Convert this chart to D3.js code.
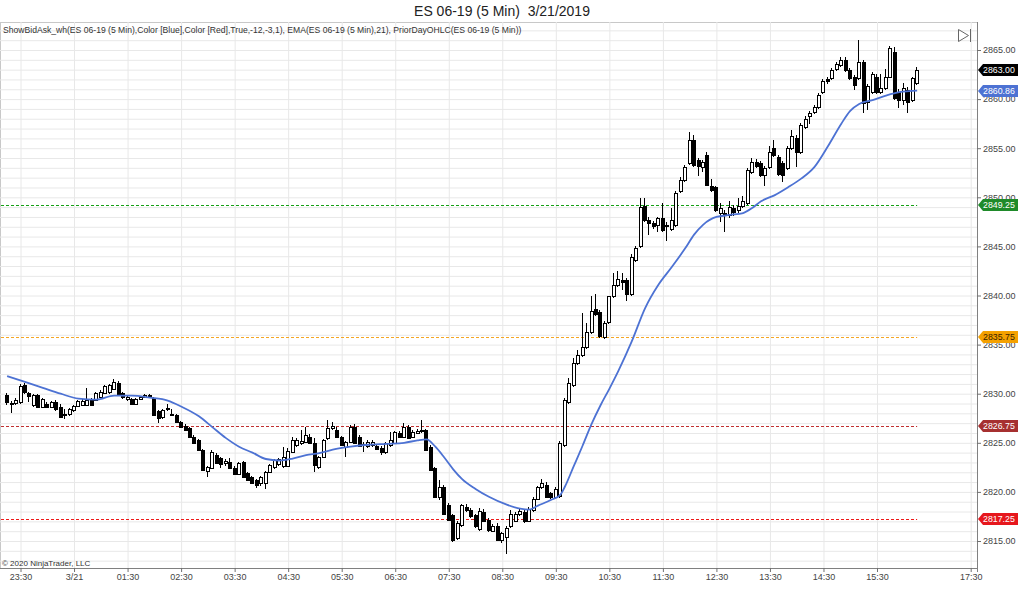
<!DOCTYPE html>
<meta charset="utf-8">
<style>
body { margin: 0; background: #fff; }
svg { display: block; font-family: "Liberation Sans", Arial, sans-serif; }
.axis text { font-family: "Liberation Sans", Arial, sans-serif; font-size: 9px; fill: #444; }
.axis line { stroke: #707070; }
.axis path { display: none; }
.grid line { stroke: #e8e8e8; }
.grid path { display: none; }
</style>
<body>
<script src="https://d3js.org/d3.v7.min.js"></script>
<script>
// ES 06-19, 5 min bars. bar 0 is the 23:30 bar; the data runs from bar -4 to bar 200
var firstBar = -4;

var open = [
  2829.9, 2829.0, 2829.1, 2829.2, 2830.9, 2830.1, 2828.8, 2829.9, 2828.6, 2829.0,
  2828.6, 2829.2, 2828.6, 2827.8, 2827.9, 2828.3, 2828.7, 2828.9, 2828.9, 2829.4,
  2829.4, 2829.7, 2830.1, 2830.2, 2830.5, 2831.1, 2830.1, 2829.5, 2829.5, 2829.0,
  2829.5, 2829.7, 2829.9, 2829.6, 2828.2, 2827.6, 2828.4, 2827.9, 2827.8, 2827.1,
  2826.7, 2826.5, 2825.6, 2825.3, 2824.3, 2822.1, 2822.4, 2823.8, 2823.5, 2822.9,
  2823.0, 2822.4, 2821.8, 2823.0, 2821.9, 2821.5, 2821.2, 2820.9, 2820.9, 2822.0,
  2822.5, 2822.8, 2822.6, 2822.6, 2824.1, 2824.8, 2825.0, 2825.1, 2825.6, 2825.0,
  2822.5, 2823.6, 2825.5, 2826.5, 2826.3, 2825.6, 2824.6, 2825.1, 2826.6, 2825.6,
  2824.8, 2824.7, 2824.8, 2824.7, 2824.5, 2824.1, 2824.8, 2825.0, 2826.0, 2825.6,
  2826.6, 2825.6, 2826.0, 2826.2, 2826.3, 2824.6, 2822.4, 2819.5, 2820.5, 2818.7,
  2817.6, 2815.3, 2816.6, 2818.5, 2818.2, 2817.6, 2816.2, 2818.0, 2817.1, 2816.0,
  2816.5, 2815.1, 2815.4, 2816.5, 2817.0, 2817.7, 2818.0, 2817.0, 2818.2, 2819.3,
  2820.5, 2820.7, 2819.9, 2819.5, 2819.6, 2824.8, 2829.2, 2830.9, 2833.1, 2833.9,
  2834.8, 2836.3, 2838.6, 2838.3, 2835.8, 2837.3, 2839.9, 2841.1, 2841.6, 2841.6,
  2840.2, 2843.6, 2845.0, 2849.1, 2847.7, 2847.4, 2847.2, 2847.9, 2847.1, 2846.8,
  2847.2, 2850.6, 2851.8, 2853.5, 2855.8, 2853.8, 2853.1, 2854.3, 2851.2, 2851.0,
  2848.4, 2848.4, 2848.2, 2848.9, 2848.7, 2849.1, 2849.4, 2852.6, 2853.6, 2853.5,
  2852.3, 2853.1, 2855.0, 2854.1, 2853.5, 2853.0, 2855.0, 2856.0, 2854.6, 2857.2,
  2858.3, 2858.7, 2859.2, 2860.75, 2862.0, 2862.1, 2863.1, 2863.5, 2864.0, 2863.0,
  2862.3, 2862.1, 2863.8, 2859.7, 2860.75, 2862.3, 2860.75, 2861.1, 2862.3, 2864.8,
  2860.75, 2859.9, 2860.9, 2859.9, 2861.6
];
var high = [
  2830.1, 2829.3, 2829.6, 2831.0, 2831.1, 2830.2, 2830.0, 2830.0, 2829.6, 2829.2,
  2829.3, 2829.4, 2829.0, 2828.4, 2828.5, 2828.8, 2829.4, 2829.5, 2830.6, 2829.6,
  2830.2, 2830.4, 2830.9, 2831.0, 2831.5, 2831.3, 2830.2, 2829.8, 2829.6, 2829.6,
  2829.8, 2830.0, 2830.0, 2829.7, 2828.3, 2828.4, 2829.0, 2828.4, 2827.9, 2827.2,
  2826.9, 2826.6, 2825.8, 2825.4, 2824.4, 2822.6, 2824.3, 2824.0, 2823.6, 2823.3,
  2823.5, 2822.6, 2823.0, 2823.1, 2822.0, 2821.6, 2821.3, 2821.6, 2822.1, 2822.8,
  2823.3, 2823.5, 2824.6, 2824.5, 2825.6, 2825.5, 2826.3, 2826.6, 2825.9, 2825.5,
  2823.7, 2825.4, 2827.3, 2827.1, 2826.6, 2825.7, 2825.2, 2826.8, 2826.9, 2825.8,
  2825.1, 2825.3, 2825.3, 2824.9, 2824.7, 2825.1, 2826.1, 2826.2, 2826.2, 2827.0,
  2826.8, 2826.3, 2826.4, 2827.3, 2826.4, 2824.8, 2822.5, 2821.2, 2820.7, 2818.9,
  2817.8, 2817.0, 2818.8, 2818.8, 2818.4, 2817.8, 2818.4, 2818.3, 2817.3, 2816.7,
  2816.8, 2815.9, 2816.5, 2818.2, 2818.0, 2818.4, 2818.2, 2818.5, 2819.5, 2820.6,
  2821.3, 2821.0, 2820.0, 2820.5, 2825.2, 2829.6, 2831.6, 2833.6, 2834.4, 2838.2,
  2837.2, 2839.9, 2840.2, 2838.5, 2837.4, 2840.0, 2842.3, 2842.5, 2842.3, 2841.8,
  2844.2, 2845.0, 2849.9, 2849.9, 2848.0, 2847.6, 2848.0, 2849.4, 2847.5, 2848.9,
  2850.6, 2852.1, 2853.3, 2856.6, 2856.3, 2854.0, 2853.8, 2854.6, 2851.9, 2851.2,
  2849.4, 2848.7, 2849.6, 2849.2, 2849.9, 2850.1, 2853.0, 2854.0, 2853.9, 2853.7,
  2853.2, 2855.2, 2855.8, 2854.3, 2853.7, 2855.2, 2856.9, 2856.3, 2857.6, 2858.3,
  2858.8, 2859.4, 2860.6, 2862.0, 2862.2, 2863.2, 2863.8, 2864.3, 2864.3, 2863.2,
  2862.5, 2866.0, 2864.0, 2861.5, 2862.8, 2862.6, 2862.6, 2863.1, 2865.4, 2865.3,
  2861.0, 2861.6, 2861.2, 2862.3, 2863.3
];
var low = [
  2828.9, 2828.0, 2828.9, 2829.0, 2830.0, 2829.2, 2828.6, 2828.5, 2828.5, 2828.5,
  2828.5, 2828.2, 2827.5, 2827.4, 2827.7, 2828.1, 2828.6, 2828.8, 2828.8, 2828.7,
  2829.3, 2829.6, 2830.0, 2830.0, 2830.4, 2829.8, 2829.5, 2829.3, 2828.9, 2828.9,
  2829.4, 2829.6, 2829.6, 2827.7, 2827.0, 2827.4, 2828.2, 2827.7, 2827.0, 2826.5,
  2826.2, 2825.5, 2824.9, 2824.2, 2822.1, 2821.5, 2822.3, 2822.8, 2822.4, 2822.6,
  2822.3, 2821.7, 2821.7, 2821.4, 2821.1, 2820.8, 2820.4, 2820.6, 2820.3, 2821.9,
  2822.3, 2822.6, 2822.4, 2822.5, 2824.0, 2824.6, 2824.8, 2825.0, 2824.9, 2822.0,
  2822.3, 2823.5, 2825.3, 2826.3, 2825.5, 2824.7, 2823.6, 2825.0, 2824.9, 2824.6,
  2824.1, 2824.5, 2824.6, 2824.3, 2823.8, 2823.9, 2824.6, 2824.9, 2825.5, 2825.5,
  2825.4, 2825.5, 2825.9, 2826.0, 2824.2, 2822.1, 2819.4, 2819.2, 2817.6, 2817.0,
  2814.9, 2815.1, 2816.4, 2818.0, 2817.3, 2816.3, 2816.0, 2816.9, 2815.9, 2815.9,
  2815.0, 2814.8, 2813.7, 2816.3, 2816.9, 2817.5, 2816.8, 2816.9, 2818.0, 2819.2,
  2820.3, 2819.4, 2819.3, 2819.3, 2819.4, 2824.6, 2829.0, 2830.7, 2832.9, 2833.7,
  2834.6, 2836.1, 2837.9, 2835.7, 2835.6, 2837.1, 2839.7, 2840.9, 2840.6, 2839.4,
  2840.0, 2843.4, 2844.8, 2847.5, 2846.2, 2846.8, 2846.5, 2846.5, 2845.6, 2846.6,
  2847.0, 2850.4, 2851.6, 2853.3, 2853.1, 2852.2, 2852.6, 2851.1, 2850.5, 2848.5,
  2847.5, 2846.5, 2847.9, 2848.1, 2848.4, 2848.9, 2849.2, 2852.4, 2853.0, 2852.1,
  2851.1, 2852.9, 2854.1, 2852.2, 2851.6, 2852.8, 2854.8, 2853.1, 2854.4, 2857.0,
  2857.5, 2858.5, 2859.0, 2860.5, 2861.5, 2861.9, 2862.9, 2863.3, 2862.8, 2861.9,
  2860.9, 2861.9, 2858.55, 2858.9, 2860.5, 2860.5, 2860.5, 2860.9, 2862.1, 2859.9,
  2859.05, 2859.4, 2858.55, 2859.7, 2861.4
];
var close = [
  2829.2, 2829.1, 2829.4, 2830.8, 2830.2, 2829.8, 2829.9, 2828.6, 2829.5, 2828.6,
  2829.2, 2828.4, 2827.6, 2827.9, 2828.4, 2828.7, 2829.3, 2829.3, 2829.4, 2828.9,
  2830.1, 2830.2, 2830.8, 2830.9, 2831.2, 2829.9, 2829.7, 2829.7, 2829.0, 2829.5,
  2829.7, 2829.9, 2829.7, 2827.8, 2827.5, 2828.3, 2828.5, 2827.8, 2827.1, 2826.6,
  2826.3, 2825.6, 2825.0, 2824.3, 2822.2, 2822.5, 2824.1, 2822.9, 2822.8, 2823.1,
  2822.4, 2821.8, 2822.9, 2821.5, 2821.2, 2820.9, 2820.7, 2821.5, 2822.0, 2822.7,
  2823.2, 2823.4, 2823.6, 2824.2, 2825.3, 2825.3, 2825.2, 2825.8, 2825.0, 2822.7,
  2823.6, 2825.3, 2826.5, 2826.7, 2825.6, 2824.8, 2825.1, 2826.6, 2825.0, 2824.7,
  2824.9, 2825.1, 2825.1, 2824.4, 2824.1, 2825.0, 2825.3, 2826.1, 2825.6, 2826.6,
  2825.5, 2826.1, 2826.2, 2826.3, 2824.3, 2822.2, 2819.5, 2820.5, 2817.7, 2817.1,
  2815.1, 2816.8, 2818.7, 2818.2, 2817.5, 2816.5, 2818.1, 2817.0, 2816.1, 2816.5,
  2815.1, 2815.8, 2816.3, 2817.8, 2817.8, 2818.1, 2817.0, 2818.3, 2819.3, 2820.5,
  2820.9, 2819.5, 2819.5, 2820.3, 2825.0, 2829.4, 2831.1, 2833.1, 2833.9, 2834.8,
  2836.3, 2838.4, 2838.1, 2835.9, 2837.2, 2839.9, 2841.1, 2841.7, 2841.4, 2840.2,
  2843.9, 2844.8, 2849.0, 2847.7, 2847.4, 2847.1, 2847.9, 2846.7, 2847.2, 2847.7,
  2850.4, 2851.8, 2853.1, 2855.8, 2853.3, 2853.2, 2853.6, 2851.3, 2850.7, 2848.7,
  2848.9, 2848.2, 2849.0, 2848.5, 2849.1, 2849.6, 2852.8, 2853.6, 2853.2, 2852.3,
  2853.0, 2854.6, 2854.3, 2852.4, 2852.3, 2855.0, 2856.2, 2854.6, 2857.4, 2858.0,
  2858.55, 2859.2, 2860.4, 2861.8, 2861.8, 2863.0, 2863.6, 2864.0, 2863.0, 2862.1,
  2861.4, 2863.8, 2859.6, 2861.3, 2862.6, 2860.75, 2861.1, 2862.3, 2865.2, 2860.1,
  2859.9, 2861.1, 2859.7, 2862.1, 2863.0
];

// EMA(21) at these bars
var emaBar = [-4, 0, 4, 8, 12, 16, 20, 24, 28, 32, 35, 39, 42, 45, 48, 51, 54, 57, 60, 63,
  66, 69, 73, 77, 81, 85, 88, 90, 92, 94, 96, 98, 101, 104, 108, 111, 113, 115, 118, 120,
  121, 123, 125, 127, 129, 131, 133, 136, 139, 142, 145, 148, 150, 152, 155, 158, 161, 163, 165, 168,
  171, 174, 177, 180, 183, 185, 187, 190, 193, 196, 200];
var emaValue = [2831.8, 2831.2, 2830.6, 2830.0, 2829.5, 2829.4, 2829.8, 2829.8, 2829.6, 2829.3,
  2828.7, 2827.7, 2826.6, 2825.5, 2824.6, 2824.0, 2823.35, 2823.2, 2823.4, 2823.75,
  2823.95, 2824.3, 2824.6, 2824.8, 2824.9, 2825.0, 2825.25, 2825.35, 2824.6, 2823.5,
  2822.3, 2821.3, 2820.3, 2819.5, 2818.7, 2818.3, 2818.2, 2818.6, 2819.2, 2819.7,
  2820.5, 2822.6, 2824.7, 2826.9, 2828.8, 2830.5, 2832.3, 2835.3, 2838.7, 2841.1,
  2842.9, 2844.8, 2846.2, 2847.2, 2848.0, 2848.2, 2848.4, 2848.9, 2849.6, 2850.2,
  2851.0, 2851.9, 2853.1, 2855.2, 2857.5, 2858.8, 2859.5, 2859.9, 2860.35, 2860.7, 2860.86];

// prior day levels: high, open, close, low
var priorName = ["high", "open", "close", "low"];
var priorLevel = [2849.25, 2835.75, 2826.75, 2817.25];

var tickBar = [0, 12, 24, 36, 48, 60, 72, 84, 96, 108, 120, 132, 144, 156, 168, 180, 192, 213];
var tickLabel = ["23:30", "3/21", "01:30", "02:30", "03:30", "04:30", "05:30", "06:30", "07:30",
  "08:30", "09:30", "10:30", "11:30", "12:30", "13:30", "14:30", "15:30", "17:30"];
var priceTicks = [2815, 2820, 2825, 2830, 2835, 2840, 2845, 2850, 2855, 2860, 2865];

var priorStyle = {
  high:  {line: "#16a016", tag: "#1f8a2a", text: "#fff"},
  open:  {line: "#f5a623", tag: "#f5a100", text: "#3a2200"},
  close: {line: "#c03030", tag: "#a63030", text: "#fff"},
  low:   {line: "#f01818", tag: "#e6171d", text: "#fff"}
};

var plotRight = 977, plotTop = 22, plotBottom = 568;

var x = d3.scaleLinear().domain([0, 192]).range([20.5, 877]);
var y = d3.scaleLinear().domain([2815, 2865]).range([541, 50]);
var barX = function(i) { return x(i + 1); };

var svg = d3.select("body").append("svg")
    .attr("width", 1024)
    .attr("height", 605);

svg.append("text")
    .attr("x", 502).attr("y", 16)
    .attr("text-anchor", "middle")
    .style("white-space", "pre")
    .attr("font-size", "14px").attr("fill", "#222")
    .text("ES 06-19 (5 Min)  3/21/2019");

// panel frame
svg.append("rect")
    .attr("x", 0.5).attr("y", plotTop + 0.5)
    .attr("width", plotRight).attr("height", plotBottom - plotTop)
    .attr("fill", "none").attr("stroke", "#c8c8c8");

// grid: one line per point, one per hour label
svg.append("g").attr("class", "grid")
    .call(d3.axisRight(y).tickValues(d3.range(2813, 2868)).tickSize(plotRight).tickFormat(""));
svg.append("g").attr("class", "grid")
    .attr("transform", "translate(0," + plotTop + ")")
    .call(d3.axisBottom(x).tickValues(tickBar).tickSize(plotBottom - plotTop).tickFormat(""));

svg.append("text")
    .attr("x", 3).attr("y", 33)
    .attr("font-size", "8.6px").attr("fill", "#333")
    .text("ShowBidAsk_wh(ES 06-19 (5 Min),Color [Blue],Color [Red],True,-12,-3,1), EMA(ES 06-19 (5 Min),21), PriorDayOHLC(ES 06-19 (5 Min))");

// prior day dashed levels
var lastX = barX(firstBar + close.length - 1);
svg.append("g").selectAll("line")
  .data(priorLevel)
  .join("line")
    .attr("x1", 1).attr("x2", lastX)
    .attr("y1", function(d) { return Math.round(y(d)) + 0.5; })
    .attr("y2", function(d) { return Math.round(y(d)) + 0.5; })
    .attr("stroke", function(d, i) { return priorStyle[priorName[i]].line; })
    .attr("stroke-dasharray", "3,2");

// candles
var bars = open.map(function(o, k) {
  return {i: firstBar + k, o: o, h: high[k], l: low[k], c: close[k]};
});
var cg = svg.append("g");
cg.selectAll("line")
  .data(bars)
  .join("line")
    .attr("x1", function(d) { return Math.round(barX(d.i)) - 0.5; })
    .attr("x2", function(d) { return Math.round(barX(d.i)) - 0.5; })
    .attr("y1", function(d) { return Math.round(y(d.h)); })
    .attr("y2", function(d) { return Math.round(y(d.l)); })
    .attr("stroke", "#000");
cg.selectAll("rect")
  .data(bars)
  .join("rect")
    .attr("x", function(d) { return Math.round(barX(d.i)) - 1.5; })
    .attr("width", 3)
    .attr("y", function(d) { return Math.round(y(Math.max(d.o, d.c))) + 0.5; })
    .attr("height", function(d) { return Math.round(y(Math.min(d.o, d.c))) - Math.round(y(Math.max(d.o, d.c))); })
    .attr("fill", function(d) { return d.c >= d.o ? "#fff" : "#000"; })
    .attr("stroke", "#000");

// EMA line
var emaLine = d3.line()
    .x(function(d) { return barX(d[0]); })
    .y(function(d) { return y(d[1]); })
    .curve(d3.curveMonotoneX);
svg.append("path")
    .datum(d3.zip(emaBar, emaValue))
    .attr("d", emaLine)
    .attr("fill", "none")
    .attr("stroke", "#4d72d3")
    .attr("stroke-width", 1.8);

// axes
svg.append("line")
    .attr("x1", plotRight + 0.5).attr("x2", plotRight + 0.5)
    .attr("y1", plotTop).attr("y2", plotBottom + 4)
    .attr("stroke", "#808080");
svg.append("line")
    .attr("x1", 0).attr("x2", plotRight + 1)
    .attr("y1", plotBottom + 0.5).attr("y2", plotBottom + 0.5)
    .attr("stroke", "#808080");

svg.append("g").attr("class", "axis")
    .attr("transform", "translate(" + plotRight + ",0)")
    .call(d3.axisRight(y).tickValues(priceTicks).tickFormat(d3.format(".2f")).tickSize(4).tickPadding(2));

svg.append("g").attr("class", "axis")
    .attr("transform", "translate(0," + plotBottom + ")")
    .call(d3.axisBottom(x).tickValues(tickBar)
      .tickFormat(function(d, i) { return tickLabel[i]; })
      .tickSize(4).tickPadding(2));

// price markers on the right axis
function tag(price, fill, textFill) {
  var yy = Math.round(y(price));
  var t = svg.append("g");
  t.append("path")
      .attr("d", "M" + (plotRight + 1) + "," + yy + "L" + (plotRight + 6) + "," + (yy - 6) +
        "L1018," + (yy - 6) + "L1018," + (yy + 6) + "L" + (plotRight + 6) + "," + (yy + 6) + "Z")
      .attr("fill", fill);
  t.append("text")
      .attr("x", plotRight + 6).attr("y", yy + 3.2)
      .attr("font-size", "8.8px").attr("fill", textFill)
      .text(d3.format(".2f")(price));
}
tag(close[close.length - 1], "#000", "#fff");
tag(emaValue[emaValue.length - 1], "#4d72d3", "#fff");
priorLevel.forEach(function(p, i) {
  var s = priorStyle[priorName[i]];
  tag(p, s.tag, s.text);
});

svg.append("text")
    .attr("x", 2).attr("y", 566)
    .attr("font-size", "8px").attr("fill", "#333")
    .text("\u00a9 2020 NinjaTrader, LLC");

// scroll-to-end button
svg.append("path")
    .attr("d", "M958.5,29.5L968.5,35.5L958.5,41.5Z")
    .attr("fill", "none").attr("stroke", "#666");
svg.append("line")
    .attr("x1", 970.5).attr("x2", 970.5).attr("y1", 29).attr("y2", 42)
    .attr("stroke", "#666");
</script>
</body>
